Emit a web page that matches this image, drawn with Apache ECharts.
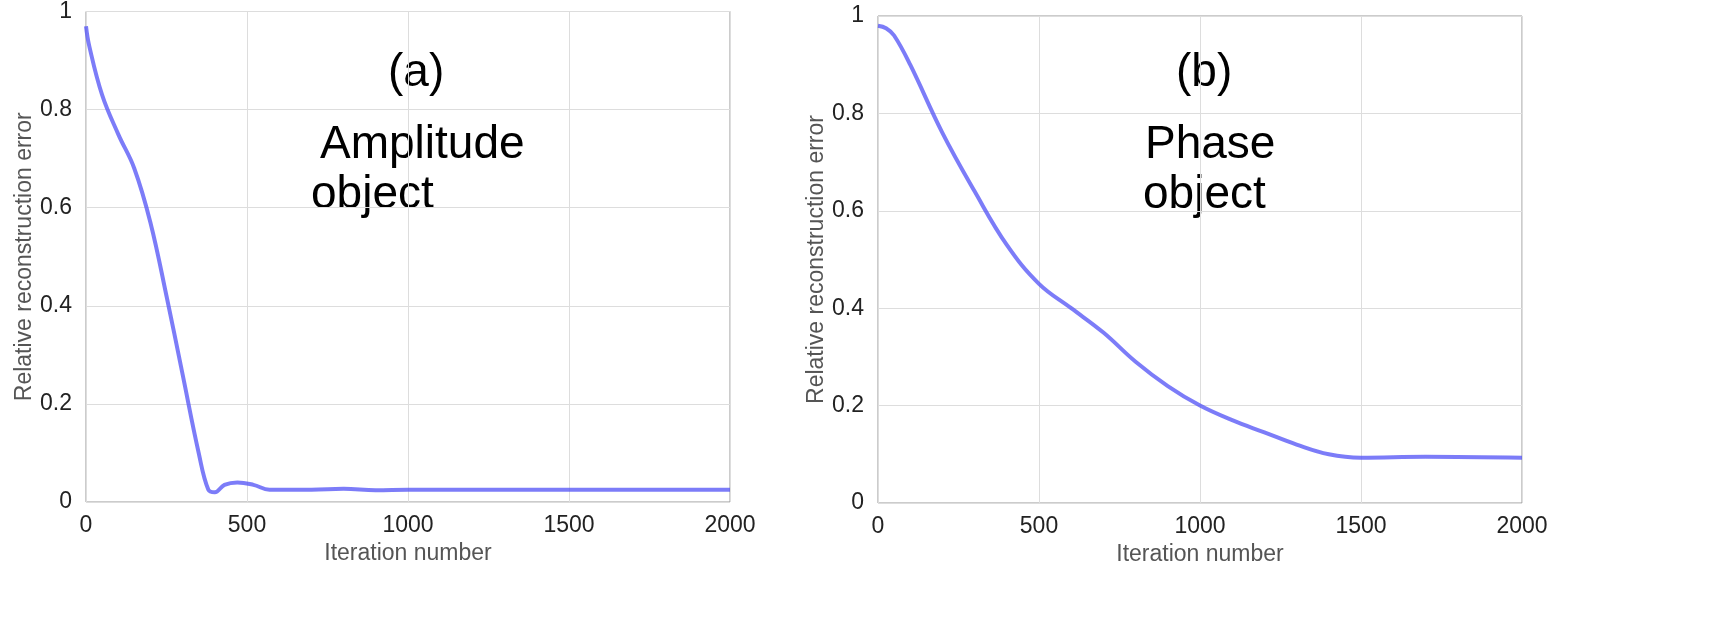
<!DOCTYPE html>
<html>
<head>
<meta charset="utf-8">
<script src="https://cdn.jsdelivr.net/npm/echarts@6/dist/echarts.min.js"></script>
<style>html,body{margin:0;background:#fff}#c{width:1725px;height:638px}</style>
</head>
<body>
<div id="c"></div>
<script>
// amplitude object (a)
const ampIter = [0, 10, 50, 100, 150, 200, 250, 300, 350, 380, 400, 430, 470, 520, 570, 700, 800, 900, 1000, 1500, 2000]
const ampErr = [0.97, 0.93, 0.83, 0.75, 0.68, 0.57, 0.42, 0.26, 0.1, 0.025, 0.02, 0.035, 0.04, 0.035, 0.025, 0.025, 0.027, 0.024, 0.025, 0.025, 0.025]
// phase object (b)
const phIter = [0, 25, 50, 100, 200, 300, 400, 500, 600, 700, 800, 900, 1000, 1100, 1200, 1300, 1400, 1500, 1700, 2000]
const phErr = [0.98, 0.975, 0.96, 0.9, 0.76, 0.64, 0.53, 0.45, 0.4, 0.35, 0.29, 0.24, 0.2, 0.17, 0.145, 0.12, 0.1, 0.093, 0.095, 0.093]

const font = "Liberation Sans, Arial, sans-serif"
const chart = echarts.init(document.getElementById("c"))

function xAxis(i) {
  return {
    gridIndex: i, type: "value", min: 0, max: 2000, interval: 500,
    name: "Iteration number", nameLocation: "middle", nameGap: 38,
    nameTextStyle: { fontSize: 23, color: "#555", fontFamily: font },
    axisLabel: { fontSize: 23, color: "#222", fontFamily: font, margin: 12, formatter: v => String(v) },
    axisLine: { show: false }, axisTick: { show: false },
    splitLine: { lineStyle: { color: "#ddd" } }
  }
}
function yAxis(i) {
  return {
    gridIndex: i, type: "value", min: 0, max: 1, interval: 0.2,
    name: "Relative reconstruction error", nameLocation: "middle", nameGap: 50,
    nameTextStyle: { fontSize: 23, color: "#555", fontFamily: font },
    axisLabel: { fontSize: 23, color: "#222", fontFamily: font, margin: 14 },
    axisLine: { show: false }, axisTick: { show: false },
    splitLine: { lineStyle: { color: "#ddd" } }
  }
}
function line(i, xs, ys) {
  return {
    type: "line", xAxisIndex: i, yAxisIndex: i, smooth: 0.4, showSymbol: false,
    data: xs.map((x, k) => [x, ys[k]]),
    lineStyle: { color: "rgba(80,80,245,0.75)", width: 4 }
  }
}
const txt = (x, y, s) => ({ type: "text", left: x, top: y,
  style: { text: s, font: "46px " + font, fill: "#000" } })

chart.setOption({
  animation: false,
  grid: [
    { left: 86, top: 10, width: 644, height: 492, show: true, borderColor: "#999", borderWidth: 1 },
    { left: 878, top: 16, width: 644, height: 487, show: true, borderColor: "#999", borderWidth: 1 }
  ],
  xAxis: [xAxis(0), xAxis(1)],
  yAxis: [yAxis(0), yAxis(1)],
  series: [line(0, ampIter, ampErr), line(1, phIter, phErr)],
  graphic: [
    txt(388, 50, "(a)"), txt(320, 122, "Amplitude"), txt(311, 172, "object"),
    txt(1176, 50, "(b)"), txt(1145, 122, "Phase"), txt(1143, 172, "object")
  ]
})
</script>
</body>
</html>
